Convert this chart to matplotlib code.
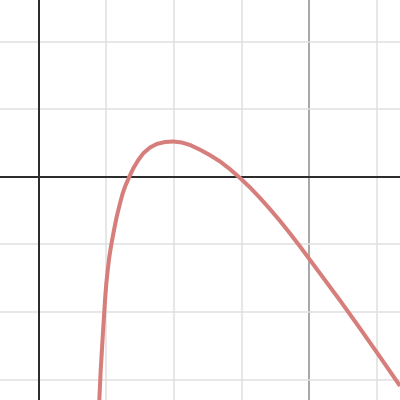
import matplotlib
matplotlib.use("Agg")
import matplotlib.pyplot as plt
from matplotlib.ticker import MultipleLocator

# Curve points (graph units)
curve_x = [0.4482, 0.4586, 0.4734, 0.4904, 0.5000, 0.5104, 0.5222, 0.5385, 0.5570, 0.5769,
           0.6013, 0.6198, 0.6383, 0.6701, 0.6997, 0.7367, 0.7737, 0.8232, 0.8728, 0.9342,
           0.9956, 1.0577, 1.1191, 1.1930, 1.2670, 1.3410, 1.4149, 1.4889, 1.5629, 1.6368,
           1.7108, 1.7848, 1.8587, 1.9327, 2.0806, 2.2285, 2.3765, 2.5244, 2.6723]
curve_y = [-1.6509, -1.4290, -1.1827, -0.9112, -0.7877, -0.6893, -0.5910, -0.4919, -0.3935, -0.2951,
           -0.1960, -0.1272, -0.0732, 0.0007, 0.0629, 0.1243, 0.1738, 0.2167, 0.2426, 0.2574,
           0.2611, 0.2537, 0.2352, 0.2004, 0.1598, 0.1132, 0.0562, -0.0089, -0.0791, -0.1568,
           -0.2396, -0.3269, -0.4194, -0.5155, -0.7152, -0.9149, -1.1220, -1.3328, -1.5473]

x_range = (-0.2863, 2.672)
y_range = (-1.651, 1.3077)
minor_step = 0.5
major_step = 2.0

fig = plt.figure(figsize=(4, 4), dpi=100)
ax = fig.add_axes([0, 0, 1, 1])
ax.set_xlim(*x_range)
ax.set_ylim(*y_range)

ax.xaxis.set_major_locator(MultipleLocator(major_step))
ax.yaxis.set_major_locator(MultipleLocator(major_step))
ax.xaxis.set_minor_locator(MultipleLocator(minor_step))
ax.yaxis.set_minor_locator(MultipleLocator(minor_step))
ax.grid(which="minor", color="#e0e0e0", linewidth=1.1, zorder=0)
ax.grid(which="major", color="#a6a6a6", linewidth=1.4, zorder=0)
ax.set_axisbelow(True)
ax.tick_params(which="both", length=0, labelbottom=False, labelleft=False)
for s in ax.spines.values():
    s.set_visible(False)

ax.axhline(0, color="#2a2a2a", linewidth=1.4, zorder=2)
ax.axvline(0, color="#2a2a2a", linewidth=1.4, zorder=2)

ax.plot(curve_x, curve_y, color="#d67e7b", linewidth=2.9, zorder=3,
        solid_capstyle="butt", solid_joinstyle="round")

fig.savefig("out.png", dpi=100)
